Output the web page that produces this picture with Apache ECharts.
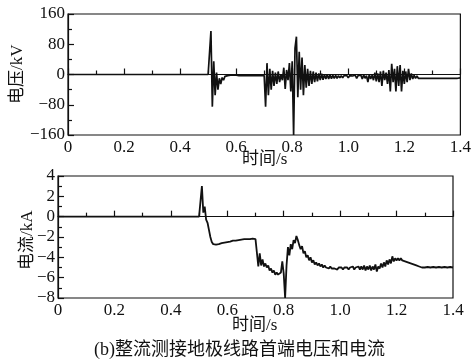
<!DOCTYPE html>
<html><head><meta charset="utf-8">
<script src="https://cdn.jsdelivr.net/npm/echarts@6/dist/echarts.min.js"></script>
<style>html,body{margin:0;padding:0;background:#fff}#c{width:474px;height:359px}</style>
</head><body><div id="c"></div>
<script>
// Time ticks (s)
const timeTicks = [0, 0.2, 0.4, 0.6, 0.8, 1.0, 1.2, 1.4];
const voltageTicks = [-160, -80, 0, 80, 160];
const currentTicks = [-8, -6, -4, -2, 0, 2, 4];

// Voltage (kV) : [time s, value]
const voltage = [
[0,0],[0.500,0],[0.505,0],[0.510,115],[0.515,-85],[0.520,35],[0.525,-55],[0.530,5],[0.535,-40],[0.540,-10],
[0.545,-25],[0.550,-8],[0.555,-15],[0.560,-5],[0.565,-10],[0.570,-3],[0.575,-8],[0.580,-2],[0.585,-7],[0.590,-2],
[0.595,-7],[0.600,-2],[0.605,-7],[0.610,-3],[0.615,-7],[0.620,-3],[0.625,-7],[0.630,-3],[0.635,-7],[0.640,-3],
[0.645,-6],[0.650,-3],[0.655,-6],[0.660,-3],[0.665,-6],[0.670,-3],[0.675,-6],[0.680,-3],[0.685,-5],[0.690,-3],
[0.695,-4],[0.700,-3],[0.705,-85],[0.710,30],[0.715,-55],[0.720,15],[0.725,-40],[0.730,10],[0.735,-30],[0.740,5],
[0.745,-25],[0.750,8],[0.755,-20],[0.760,0],[0.765,-15],[0.770,18],[0.775,-38],[0.780,12],[0.785,-15],[0.790,30],
[0.795,-45],[0.800,35],[0.805,-160],[0.810,70],[0.815,100],[0.820,-60],[0.825,60],[0.830,-40],[0.835,45],[0.840,-55],
[0.845,25],[0.850,-35],[0.855,15],[0.860,-30],[0.865,10],[0.870,-25],[0.875,8],[0.880,-20],[0.885,5],[0.890,-18],
[0.895,3],[0.900,-15],[0.905,2],[0.910,-14],[0.915,0],[0.920,-12],[0.925,0],[0.930,-12],[0.935,-1],[0.940,-11],
[0.945,-2],[0.950,-10],[0.955,-2],[0.960,-10],[0.965,-3],[0.970,-9],[0.975,-3],[0.980,-9],[0.985,-3],[0.990,-8],
[0.995,-3],[1.000,-9],[1.005,-3],[1.010,-8],[1.015,-4],[1.020,-9],[1.025,-2],[1.030,-10],[1.035,-3],[1.040,-8],
[1.045,-2],[1.050,-12],[1.055,-1],[1.060,-10],[1.065,-3],[1.070,-20],[1.075,0],[1.080,-12],[1.085,-2],[1.090,-15],
[1.095,5],[1.100,-18],[1.105,3],[1.110,-20],[1.115,8],[1.120,-30],[1.125,10],[1.130,-15],[1.135,5],[1.140,-25],
[1.145,12],[1.150,-45],[1.155,28],[1.160,-20],[1.165,15],[1.170,-45],[1.175,22],[1.180,-30],[1.185,25],[1.190,-45],
[1.195,10],[1.200,-25],[1.205,8],[1.210,-20],[1.215,15],[1.220,-15],[1.225,3],[1.230,-12],[1.235,-2],[1.240,-10],
[1.245,-4],[1.250,-10],[1.255,-5],[1.260,-10],[1.265,-6],[1.270,-10],[1.275,-6],[1.280,-10],[1.285,-6],[1.290,-10],
[1.295,-6],[1.300,-10],[1.305,-6],[1.310,-10],[1.315,-6],[1.320,-10],[1.325,-6],[1.330,-10],[1.335,-6],[1.340,-10],
[1.345,-6],[1.350,-10],[1.355,-6],[1.360,-10],[1.365,-6],[1.370,-10],[1.375,-6],[1.380,-10],[1.385,-6],[1.390,-10],
[1.395,-7],[1.400,-9]
];

// Current (kA) : [time s, value]
const current = [
[0,0],[0.500,0],[0.505,0],[0.510,3.0],[0.515,0.4],[0.520,1.0],[0.525,-0.3],[0.530,-0.6],[0.535,-1.3],[0.540,-2.0],
[0.545,-2.5],[0.550,-2.7],[0.555,-2.8],[0.560,-2.75],[0.565,-2.8],[0.570,-2.7],[0.575,-2.7],[0.580,-2.6],[0.585,-2.65],[0.590,-2.55],
[0.595,-2.6],[0.600,-2.5],[0.605,-2.55],[0.610,-2.45],[0.615,-2.5],[0.620,-2.35],[0.625,-2.45],[0.630,-2.35],[0.635,-2.4],[0.640,-2.3],
[0.645,-2.35],[0.650,-2.25],[0.655,-2.3],[0.660,-2.2],[0.665,-2.25],[0.670,-2.2],[0.675,-2.25],[0.680,-2.2],[0.685,-2.2],[0.690,-2.15],
[0.695,-2.2],[0.700,-2.2],[0.705,-2.25],[0.710,-4.9],[0.715,-3.6],[0.720,-4.8],[0.725,-4.2],[0.730,-4.9],[0.735,-4.6],[0.740,-5.0],
[0.745,-4.8],[0.750,-5.3],[0.755,-5.1],[0.760,-5.5],[0.765,-5.3],[0.770,-5.7],[0.775,-5.5],[0.780,-5.7],[0.785,-5.6],[0.790,-5.5],
[0.795,-4.4],[0.800,-5.6],[0.805,-8.0],[0.810,-4.8],[0.815,-3.0],[0.820,-3.8],[0.825,-2.7],[0.830,-3.2],[0.835,-2.3],[0.840,-2.6],
[0.845,-1.9],[0.850,-2.3],[0.855,-2.8],[0.860,-3.2],[0.865,-2.9],[0.870,-3.6],[0.875,-3.4],[0.880,-4.0],[0.885,-3.8],[0.890,-4.3],
[0.895,-4.0],[0.900,-4.5],[0.905,-4.3],[0.910,-4.7],[0.915,-4.5],[0.920,-4.8],[0.925,-4.6],[0.930,-4.9],[0.935,-4.7],[0.940,-5.0],
[0.945,-4.8],[0.950,-5.0],[0.955,-4.9],[0.960,-5.1],[0.965,-4.9],[0.970,-5.1],[0.975,-5.0],[0.980,-5.1],[0.985,-5.0],[0.990,-5.2],
[0.995,-5.0],[1.000,-5.1],[1.005,-5.0],[1.010,-5.2],[1.015,-5.0],[1.020,-5.1],[1.025,-5.0],[1.030,-5.2],[1.035,-5.0],[1.040,-5.1],
[1.045,-4.9],[1.050,-5.2],[1.055,-5.0],[1.060,-5.1],[1.065,-4.9],[1.070,-5.2],[1.075,-4.9],[1.080,-5.2],[1.085,-4.8],[1.090,-5.3],
[1.095,-4.9],[1.100,-5.2],[1.105,-4.8],[1.110,-5.3],[1.115,-4.9],[1.120,-5.2],[1.125,-4.7],[1.130,-5.4],[1.135,-4.9],[1.140,-5.1],
[1.145,-4.6],[1.150,-5.0],[1.155,-4.5],[1.160,-4.9],[1.165,-4.3],[1.170,-4.7],[1.175,-4.2],[1.180,-4.6],[1.185,-3.9],[1.190,-4.4],
[1.195,-4.1],[1.200,-4.3],[1.205,-4.1],[1.210,-4.3],[1.215,-4.1],[1.220,-4.3],[1.225,-4.2],[1.230,-4.4],[1.235,-4.3],[1.240,-4.5],
[1.245,-4.5],[1.250,-4.6],[1.255,-4.6],[1.260,-4.7],[1.265,-4.7],[1.270,-4.8],[1.275,-4.8],[1.280,-4.9],[1.285,-4.9],[1.290,-5.0],
[1.295,-4.95],[1.300,-5.0],[1.310,-4.95],[1.320,-5.0],[1.330,-4.95],[1.340,-5.0],[1.350,-4.95],[1.360,-5.0],[1.370,-4.95],[1.380,-5.0],
[1.390,-4.95],[1.400,-5.0]
];

const xName = '时间/s';
const voltageName = '电压/kV';
const currentName = '电流/kA';
const caption = '(b)整流测接地极线路首端电压和电流';

const serif = "'Liberation Serif','Noto Sans CJK SC',serif";
const ink = '#111';
const fmt = v => (v < 0 ? '\u2212' + Math.abs(+v.toFixed(1)) : (+v.toFixed(1)).toString());
const fmtX = v => v === 0 ? '0' : v.toFixed(1);

function xAxis(gi) {
  return {
    type: 'value', gridIndex: gi, min: timeTicks[0], max: timeTicks[timeTicks.length - 1], interval: 0.2,
    axisLine: { show: true, lineStyle: { color: ink, width: 1.2 } },
    axisTick: { inside: true, length: 6, lineStyle: { color: ink, width: 1.2 } },
    minorTick: { show: true, splitNumber: 2, length: 4, lineStyle: { color: ink, width: 1.2 } },
    splitLine: { show: false },
    axisLabel: { formatter: fmtX, color: ink, fontFamily: serif, fontSize: 17, margin: 4, showMaxLabel: true, showMinLabel: true }
  };
}
function yAxis(gi, ticks) {
  return {
    type: 'value', gridIndex: gi, min: ticks[0], max: ticks[ticks.length - 1], interval: ticks[1] - ticks[0],
    axisLine: { show: true, lineStyle: { color: ink, width: 1.2 } },
    axisTick: { inside: true, length: 6, lineStyle: { color: ink, width: 1.2 } },
    minorTick: { show: true, splitNumber: 2, length: 4, lineStyle: { color: ink, width: 1.2 } },
    splitLine: { show: false },
    axisLabel: { formatter: fmt, color: ink, fontFamily: serif, fontSize: 17, margin: 3 }
  };
}

const font = "17px 'Liberation Serif','Noto Sans CJK SC'";
const chart = echarts.init(document.getElementById('c'), null, { renderer: 'canvas' });
chart.setOption({
  animation: false,
  backgroundColor: '#fff',
  grid: [
    { left: 68, top: 14, width: 394, height: 121, show: true, borderColor: ink, borderWidth: 1.2, backgroundColor: 'transparent' },
    { left: 58, top: 176, width: 395, height: 122, show: true, borderColor: ink, borderWidth: 1.2, backgroundColor: 'transparent' }
  ],
  xAxis: [xAxis(0), xAxis(1)],
  yAxis: [yAxis(0, voltageTicks), yAxis(1, currentTicks)],
  series: [
    { type: 'line', xAxisIndex: 0, yAxisIndex: 0, data: voltage, showSymbol: false, lineStyle: { color: ink, width: 1.7 } },
    { type: 'line', xAxisIndex: 1, yAxisIndex: 1, data: current, showSymbol: false, lineStyle: { color: ink, width: 1.8 } }
  ],
  graphic: [
    { type: 'text', left: 242, top: 151, style: { text: xName, font: font, fill: ink } },
    { type: 'text', left: 232, top: 317, style: { text: xName, font: font, fill: ink } },
    { type: 'text', rotation: Math.PI / 2, x: 9, y: 104, style: { text: voltageName, font: font, fill: ink } },
    { type: 'text', rotation: Math.PI / 2, x: 19, y: 270, style: { text: currentName, font: font, fill: ink } },
    { type: 'text', left: 94, top: 341, style: { text: caption, font: "18px 'Liberation Serif','Noto Sans CJK SC'", fill: ink } }
  ]
});
</script></body></html>
